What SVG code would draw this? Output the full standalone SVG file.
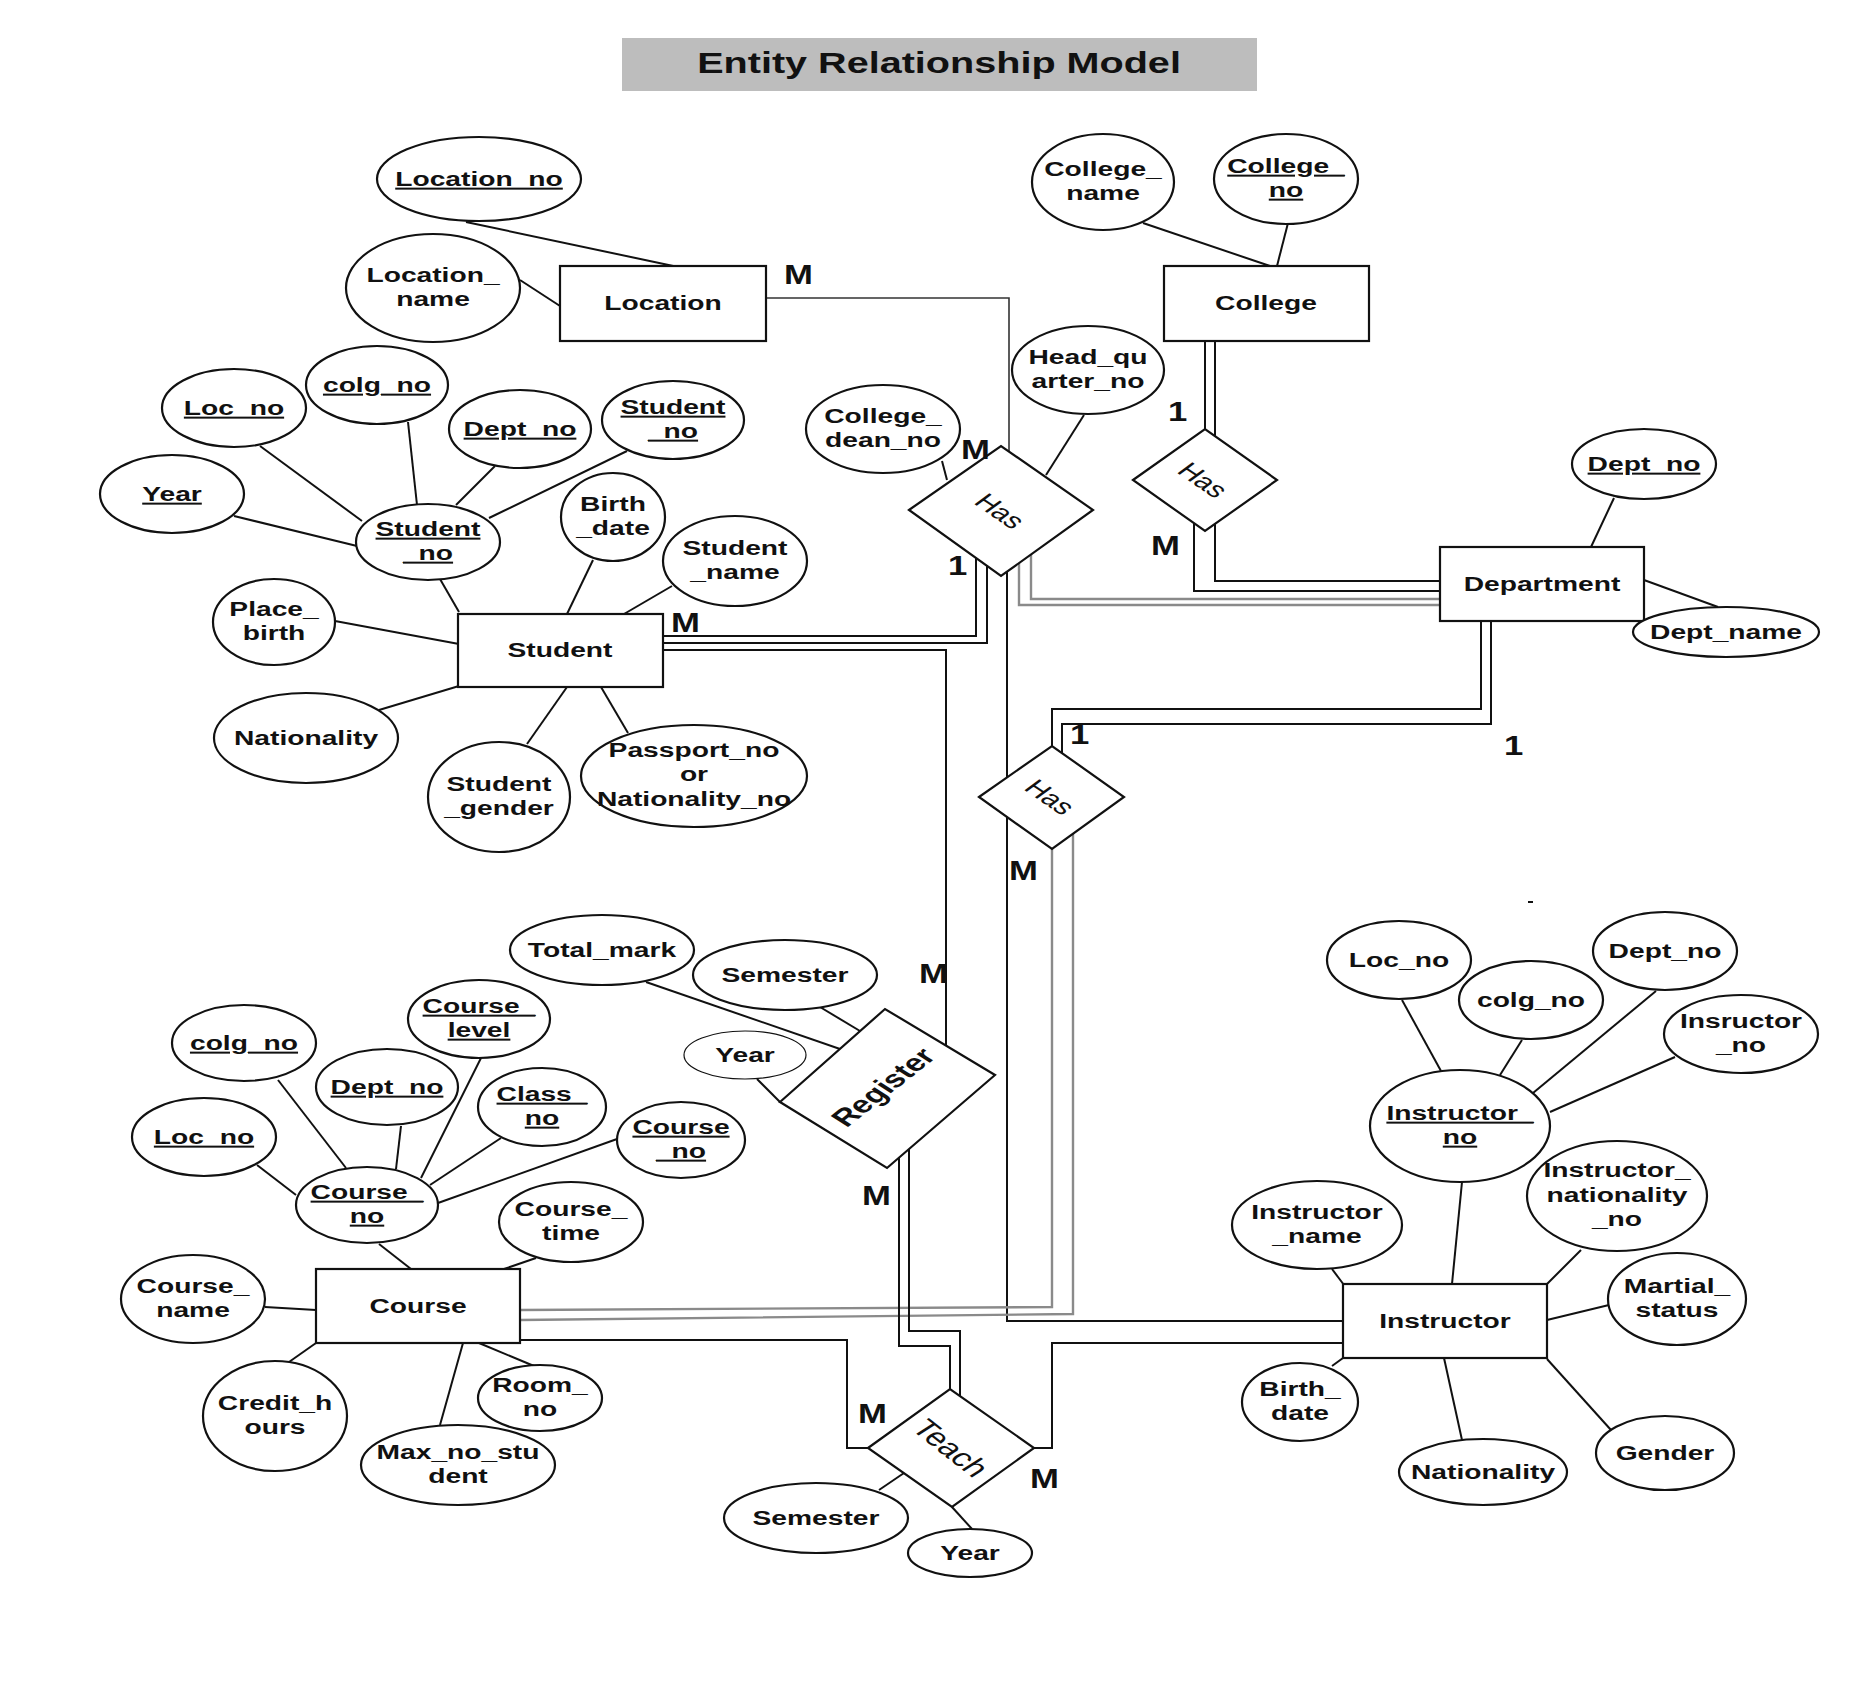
<svg xmlns="http://www.w3.org/2000/svg" width="1850" height="1681" viewBox="0 0 1850 1681">
<style>
.sh{fill:#fff;stroke:#111;stroke-width:2.2}
.thin{fill:#fff;stroke:#111;stroke-width:1.2}
.ln{fill:none;stroke:#111;stroke-width:2}
.lt{fill:none;stroke:#333;stroke-width:1.6}
.gl{fill:none;stroke:#8a8a8a;stroke-width:2.4}
.t{font-family:"Liberation Sans",Arial,Helvetica,sans-serif;font-weight:bold;font-size:20px;text-anchor:middle;fill:#111}
.u{text-decoration:underline}
.r{font-family:"Liberation Sans",Arial,Helvetica,sans-serif;font-size:22px;text-anchor:middle;fill:#111}
.lbl{font-family:"Liberation Sans",Arial,Helvetica,sans-serif;font-weight:bold;font-size:28px;fill:#111}
.ttl{font-family:"Liberation Sans",Arial,Helvetica,sans-serif;font-weight:bold;font-size:30px;text-anchor:middle;fill:#111}
</style>
<rect width="1850" height="1681" fill="#fff"/>
<g id="title">
<rect x="622" y="38" width="635" height="53" fill="#bdbdbd"/>
<text class="ttl" transform="translate(939,73) scale(1.32,1)">Entity Relationship Model</text>
</g>
<g id="connectors">
<!-- attribute lines -->
<line class="ln" x1="466" y1="222" x2="678" y2="267"/>
<line class="ln" x1="520" y1="280" x2="560" y2="306"/>
<line class="ln" x1="1143" y1="223" x2="1270" y2="266"/>
<line class="ln" x1="1288" y1="223" x2="1277" y2="266"/>
<line class="ln" x1="1084" y1="415" x2="1046" y2="475"/>
<line class="ln" x1="942" y1="461" x2="947" y2="480"/>
<line class="ln" x1="1614" y1="498" x2="1591" y2="547"/>
<line class="ln" x1="1644" y1="580" x2="1718" y2="607"/>
<line class="ln" x1="234" y1="516" x2="357" y2="546"/>
<line class="ln" x1="260" y1="446" x2="362" y2="521"/>
<line class="ln" x1="408" y1="422" x2="417" y2="505"/>
<line class="ln" x1="495" y1="466" x2="456" y2="505"/>
<line class="ln" x1="627" y1="451" x2="489" y2="518"/>
<line class="ln" x1="440" y1="579" x2="459" y2="612"/>
<line class="ln" x1="593" y1="560" x2="567" y2="614"/>
<line class="ln" x1="672" y1="586" x2="624" y2="614"/>
<line class="ln" x1="335" y1="621" x2="459" y2="644"/>
<line class="ln" x1="379" y1="710" x2="459" y2="686"/>
<line class="ln" x1="527" y1="744" x2="567" y2="687"/>
<line class="ln" x1="628" y1="733" x2="601" y2="687"/>
<line class="ln" x1="379" y1="1244" x2="411" y2="1269"/>
<line class="ln" x1="278" y1="1080" x2="346" y2="1168"/>
<line class="ln" x1="401" y1="1126" x2="396" y2="1169"/>
<line class="ln" x1="481" y1="1058" x2="421" y2="1178"/>
<line class="ln" x1="501" y1="1138" x2="430" y2="1185"/>
<line class="ln" x1="617" y1="1139" x2="438" y2="1203"/>
<line class="ln" x1="257" y1="1165" x2="296" y2="1195"/>
<line class="ln" x1="536" y1="1258" x2="504" y2="1269"/>
<line class="ln" x1="265" y1="1307" x2="316" y2="1310"/>
<line class="ln" x1="316" y1="1343" x2="289" y2="1362"/>
<line class="ln" x1="463" y1="1343" x2="440" y2="1425"/>
<line class="ln" x1="479" y1="1343" x2="534" y2="1366"/>
<line class="ln" x1="646" y1="982" x2="840" y2="1049"/>
<line class="ln" x1="820" y1="1007" x2="860" y2="1031"/>
<line class="ln" x1="757" y1="1079" x2="780" y2="1102"/>
<line class="ln" x1="879" y1="1490" x2="904" y2="1473"/>
<line class="ln" x1="952" y1="1507" x2="972" y2="1529"/>
<line class="ln" x1="1402" y1="1000" x2="1441" y2="1071"/>
<line class="ln" x1="1522" y1="1040" x2="1500" y2="1075"/>
<line class="ln" x1="1656" y1="991" x2="1533" y2="1093"/>
<line class="ln" x1="1675" y1="1057" x2="1550" y2="1112"/>
<line class="ln" x1="1462" y1="1182" x2="1452" y2="1284"/>
<line class="ln" x1="1332" y1="1269" x2="1344" y2="1285"/>
<line class="ln" x1="1581" y1="1250" x2="1547" y2="1284"/>
<line class="ln" x1="1609" y1="1305" x2="1547" y2="1320"/>
<line class="ln" x1="1332" y1="1366" x2="1343" y2="1358"/>
<line class="ln" x1="1462" y1="1440" x2="1444" y2="1358"/>
<line class="ln" x1="1611" y1="1430" x2="1547" y2="1359"/>
<!-- relationship lines -->
<polyline class="lt" points="766,298 1009,298 1009,452"/>
<polyline class="ln" points="663,636 976,636 976,558"/>
<polyline class="ln" points="663,643 987,643 987,566"/>
<polyline class="ln" points="663,650 946,650 946,1046"/>
<polyline class="ln" points="1205,341 1205,429"/>
<polyline class="ln" points="1215,341 1215,436"/>
<polyline class="ln" points="1215,524 1215,581 1440,581"/>
<polyline class="ln" points="1194,523 1194,591 1440,591"/>
<polyline class="gl" points="1031,554 1031,599 1440,599"/>
<polyline class="gl" points="1019,563 1019,605 1440,605"/>
<polyline class="ln" points="1007,572 1007,1321 1343,1321"/>
<polyline class="ln" points="1481,621 1481,709 1052,709 1052,746"/>
<polyline class="ln" points="1491,621 1491,724 1062,724 1062,753"/>
<polyline class="gl" points="1052,849 1052,1307 520,1310"/>
<polyline class="gl" points="1073,834 1073,1314 520,1320"/>
<polyline class="ln" points="899,1158 899,1346 950,1346 950,1389"/>
<polyline class="ln" points="909,1149 909,1331 960,1331 960,1396"/>
<polyline class="ln" points="520,1340 847,1340 847,1448 868,1448"/>
<polyline class="ln" points="1034,1448 1052,1448 1052,1343 1343,1343"/>
<line class="ln" x1="1528" y1="902" x2="1533" y2="902"/>
</g>
<!-- entities -->
<g id="location"><rect class="sh" x="560" y="266" width="206" height="75"/><text class="t" transform="translate(663,310) scale(1.41,1)">Location</text></g>
<g id="college"><rect class="sh" x="1164" y="266" width="205" height="75"/><text class="t" transform="translate(1266,310) scale(1.41,1)">College</text></g>
<g id="student"><rect class="sh" x="458" y="614" width="205" height="73"/><text class="t" transform="translate(560,657) scale(1.41,1)">Student</text></g>
<g id="department"><rect class="sh" x="1440" y="547" width="204" height="74"/><text class="t" transform="translate(1542,591) scale(1.41,1)">Department</text></g>
<g id="course"><rect class="sh" x="316" y="1269" width="204" height="74"/><text class="t" transform="translate(418,1313) scale(1.41,1)">Course</text></g>
<g id="instructor"><rect class="sh" x="1343" y="1284" width="204" height="74"/><text class="t" transform="translate(1445,1328) scale(1.41,1)">Instructor</text></g>
<!-- relationships -->
<g id="has1"><polygon class="sh" points="909,510 1001,446 1093,510 1001,576"/><text class="r" transform="translate(1000,511) scale(1.41,1) rotate(44)" dy="0.35em">Has</text></g>
<g id="has2"><polygon class="sh" points="1133,480 1205,429 1277,480 1205,531"/><text class="r" transform="translate(1203,480) scale(1.41,1) rotate(44)" dy="0.35em">Has</text></g>
<g id="has3"><polygon class="sh" points="979,797 1052,746 1124,797 1052,849"/><text class="r" transform="translate(1050,797) scale(1.41,1) rotate(44)" dy="0.35em">Has</text></g>
<g id="register"><polygon class="sh" points="780,1102 885,1009 995,1075 887,1168"/><text class="r" style="font-weight:bold;font-size:24px" transform="translate(883,1087) scale(1.41,1) rotate(-48)" dy="0.35em">Register</text></g>
<g id="teach"><polygon class="sh" points="868,1448 950,1389 1034,1448 952,1507"/><text class="r" style="font-size:25px" transform="translate(951,1448) scale(1.41,1) rotate(48)" dy="0.35em">Teach</text></g>
<!-- attributes -->
<g id="a-location-no"><ellipse class="sh" cx="479" cy="179" rx="102" ry="42"/><text class="t u" transform="translate(479,186) scale(1.41,1)">Location_no</text></g>
<g id="a-location-name"><ellipse class="sh" cx="433" cy="288" rx="87" ry="54"/><text class="t" transform="translate(433,288) scale(1.41,1)"><tspan x="0" y="-6">Location_</tspan><tspan x="0" y="18">name</tspan></text></g>
<g id="a-college-name"><ellipse class="sh" cx="1103" cy="182" rx="71" ry="48"/><text class="t" transform="translate(1103,182) scale(1.41,1)"><tspan x="0" y="-6">College_</tspan><tspan x="0" y="18">name</tspan></text></g>
<g id="a-college-no"><ellipse class="sh" cx="1286" cy="179" rx="72" ry="45"/><text class="t u" transform="translate(1286,179) scale(1.41,1)"><tspan x="0" y="-6">College_</tspan><tspan x="0" y="18">no</tspan></text></g>
<g id="a-head-quarter"><ellipse class="sh" cx="1088" cy="370" rx="76" ry="44"/><text class="t" transform="translate(1088,370) scale(1.41,1)"><tspan x="0" y="-6">Head_qu</tspan><tspan x="0" y="18">arter_no</tspan></text></g>
<g id="a-college-dean"><ellipse class="sh" cx="883" cy="429" rx="77" ry="44"/><text class="t" transform="translate(883,429) scale(1.41,1)"><tspan x="0" y="-6">College_</tspan><tspan x="0" y="18">dean_no</tspan></text></g>
<g id="a-dept-no"><ellipse class="sh" cx="1644" cy="464" rx="72" ry="35"/><text class="t u" transform="translate(1644,471) scale(1.41,1)">Dept_no</text></g>
<g id="a-dept-name"><ellipse class="sh" cx="1726" cy="632" rx="93" ry="25"/><text class="t" transform="translate(1726,639) scale(1.41,1)">Dept_name</text></g>
<g id="a-s-student-no"><ellipse class="sh" cx="428" cy="542" rx="72" ry="38"/><text class="t u" transform="translate(428,542) scale(1.41,1)"><tspan x="0" y="-6">Student</tspan><tspan x="0" y="18">_no</tspan></text></g>
<g id="a-s-year"><ellipse class="sh" cx="172" cy="494" rx="72" ry="39"/><text class="t u" transform="translate(172,501) scale(1.41,1)">Year</text></g>
<g id="a-s-loc-no"><ellipse class="sh" cx="234" cy="408" rx="72" ry="39"/><text class="t u" transform="translate(234,415) scale(1.41,1)">Loc_no</text></g>
<g id="a-s-colg-no"><ellipse class="sh" cx="377" cy="385" rx="71" ry="39"/><text class="t u" transform="translate(377,392) scale(1.41,1)">colg_no</text></g>
<g id="a-s-dept-no"><ellipse class="sh" cx="520" cy="429" rx="71" ry="39"/><text class="t u" transform="translate(520,436) scale(1.41,1)">Dept_no</text></g>
<g id="a-s-student-no2"><ellipse class="sh" cx="673" cy="420" rx="71" ry="39"/><text class="t u" transform="translate(673,420) scale(1.41,1)"><tspan x="0" y="-6">Student</tspan><tspan x="0" y="18">_no</tspan></text></g>
<g id="a-s-birth"><ellipse class="sh" cx="613" cy="517" rx="52" ry="44"/><text class="t" transform="translate(613,517) scale(1.41,1)"><tspan x="0" y="-6">Birth</tspan><tspan x="0" y="18">_date</tspan></text></g>
<g id="a-s-name"><ellipse class="sh" cx="735" cy="561" rx="72" ry="45"/><text class="t" transform="translate(735,561) scale(1.41,1)"><tspan x="0" y="-6">Student</tspan><tspan x="0" y="18">_name</tspan></text></g>
<g id="a-s-place"><ellipse class="sh" cx="274" cy="622" rx="61" ry="43"/><text class="t" transform="translate(274,622) scale(1.41,1)"><tspan x="0" y="-6">Place_</tspan><tspan x="0" y="18">birth</tspan></text></g>
<g id="a-s-nationality"><ellipse class="sh" cx="306" cy="738" rx="92" ry="45"/><text class="t" transform="translate(306,745) scale(1.41,1)">Nationality</text></g>
<g id="a-s-gender"><ellipse class="sh" cx="499" cy="797" rx="71" ry="55"/><text class="t" transform="translate(499,797) scale(1.41,1)"><tspan x="0" y="-6">Student</tspan><tspan x="0" y="18">_gender</tspan></text></g>
<g id="a-s-passport"><ellipse class="sh" cx="694" cy="776" rx="113" ry="51"/><text class="t" transform="translate(694,776) scale(1.41,1)"><tspan x="0" y="-19">Passport_no</tspan><tspan x="0" y="5">or</tspan><tspan x="0" y="30">Nationality_no</tspan></text></g>
<g id="a-c-course-no"><ellipse class="sh" cx="367" cy="1205" rx="71" ry="38"/><text class="t u" transform="translate(367,1205) scale(1.41,1)"><tspan x="0" y="-6">Course_</tspan><tspan x="0" y="18">no</tspan></text></g>
<g id="a-c-colg-no"><ellipse class="sh" cx="244" cy="1043" rx="72" ry="38"/><text class="t u" transform="translate(244,1050) scale(1.41,1)">colg_no</text></g>
<g id="a-c-dept-no"><ellipse class="sh" cx="387" cy="1087" rx="71" ry="38"/><text class="t u" transform="translate(387,1094) scale(1.41,1)">Dept_no</text></g>
<g id="a-c-level"><ellipse class="sh" cx="479" cy="1019" rx="71" ry="39"/><text class="t u" transform="translate(479,1019) scale(1.41,1)"><tspan x="0" y="-6">Course_</tspan><tspan x="0" y="18">level</tspan></text></g>
<g id="a-c-class"><ellipse class="sh" cx="542" cy="1107" rx="64" ry="39"/><text class="t u" transform="translate(542,1107) scale(1.41,1)"><tspan x="0" y="-6">Class_</tspan><tspan x="0" y="18">no</tspan></text></g>
<g id="a-c-course-no2"><ellipse class="sh" cx="681" cy="1140" rx="64" ry="38"/><text class="t u" transform="translate(681,1140) scale(1.41,1)"><tspan x="0" y="-6">Course</tspan><tspan x="0" y="18">_no</tspan></text></g>
<g id="a-c-loc-no"><ellipse class="sh" cx="204" cy="1137" rx="72" ry="39"/><text class="t u" transform="translate(204,1144) scale(1.41,1)">Loc_no</text></g>
<g id="a-c-time"><ellipse class="sh" cx="571" cy="1222" rx="72" ry="40"/><text class="t" transform="translate(571,1222) scale(1.41,1)"><tspan x="0" y="-6">Course_</tspan><tspan x="0" y="18">time</tspan></text></g>
<g id="a-c-name"><ellipse class="sh" cx="193" cy="1299" rx="72" ry="44"/><text class="t" transform="translate(193,1299) scale(1.41,1)"><tspan x="0" y="-6">Course_</tspan><tspan x="0" y="18">name</tspan></text></g>
<g id="a-c-credit"><ellipse class="sh" cx="275" cy="1416" rx="72" ry="55"/><text class="t" transform="translate(275,1416) scale(1.41,1)"><tspan x="0" y="-6">Credit_h</tspan><tspan x="0" y="18">ours</tspan></text></g>
<g id="a-c-max"><ellipse class="sh" cx="458" cy="1465" rx="97" ry="40"/><text class="t" transform="translate(458,1465) scale(1.41,1)"><tspan x="0" y="-6">Max_no_stu</tspan><tspan x="0" y="18">dent</tspan></text></g>
<g id="a-c-room"><ellipse class="sh" cx="540" cy="1398" rx="62" ry="33"/><text class="t" transform="translate(540,1398) scale(1.41,1)"><tspan x="0" y="-6">Room_</tspan><tspan x="0" y="18">no</tspan></text></g>
<g id="a-r-total"><ellipse class="sh" cx="602" cy="950" rx="92" ry="35"/><text class="t" transform="translate(602,957) scale(1.41,1)">Total_mark</text></g>
<g id="a-r-semester"><ellipse class="sh" cx="785" cy="975" rx="92" ry="35"/><text class="t" transform="translate(785,982) scale(1.41,1)">Semester</text></g>
<g id="a-r-year"><ellipse class="thin" cx="745" cy="1055" rx="61" ry="24"/><text class="t" transform="translate(745,1062) scale(1.41,1)">Year</text></g>
<g id="a-t-semester"><ellipse class="sh" cx="816" cy="1518" rx="92" ry="35"/><text class="t" transform="translate(816,1525) scale(1.41,1)">Semester</text></g>
<g id="a-t-year"><ellipse class="sh" cx="970" cy="1553" rx="62" ry="24"/><text class="t" transform="translate(970,1560) scale(1.41,1)">Year</text></g>
<g id="a-i-instructor-no"><ellipse class="sh" cx="1460" cy="1126" rx="90" ry="56"/><text class="t u" transform="translate(1460,1126) scale(1.41,1)"><tspan x="0" y="-6">Instructor_</tspan><tspan x="0" y="18">no</tspan></text></g>
<g id="a-i-loc-no"><ellipse class="sh" cx="1399" cy="960" rx="72" ry="39"/><text class="t" transform="translate(1399,967) scale(1.41,1)">Loc_no</text></g>
<g id="a-i-colg-no"><ellipse class="sh" cx="1531" cy="1000" rx="72" ry="39"/><text class="t" transform="translate(1531,1007) scale(1.41,1)">colg_no</text></g>
<g id="a-i-dept-no"><ellipse class="sh" cx="1665" cy="951" rx="72" ry="39"/><text class="t" transform="translate(1665,958) scale(1.41,1)">Dept_no</text></g>
<g id="a-i-insructor-no"><ellipse class="sh" cx="1741" cy="1034" rx="77" ry="39"/><text class="t" transform="translate(1741,1034) scale(1.41,1)"><tspan x="0" y="-6">Insructor</tspan><tspan x="0" y="18">_no</tspan></text></g>
<g id="a-i-name"><ellipse class="sh" cx="1317" cy="1225" rx="85" ry="44"/><text class="t" transform="translate(1317,1225) scale(1.41,1)"><tspan x="0" y="-6">Instructor</tspan><tspan x="0" y="18">_name</tspan></text></g>
<g id="a-i-nat-no"><ellipse class="sh" cx="1617" cy="1196" rx="90" ry="55"/><text class="t" transform="translate(1617,1196) scale(1.41,1)"><tspan x="0" y="-19">Instructor_</tspan><tspan x="0" y="6">nationality</tspan><tspan x="0" y="30">_no</tspan></text></g>
<g id="a-i-martial"><ellipse class="sh" cx="1677" cy="1299" rx="69" ry="46"/><text class="t" transform="translate(1677,1299) scale(1.41,1)"><tspan x="0" y="-6">Martial_</tspan><tspan x="0" y="18">status</tspan></text></g>
<g id="a-i-birth"><ellipse class="sh" cx="1300" cy="1402" rx="58" ry="39"/><text class="t" transform="translate(1300,1402) scale(1.41,1)"><tspan x="0" y="-6">Birth_</tspan><tspan x="0" y="18">date</tspan></text></g>
<g id="a-i-nationality"><ellipse class="sh" cx="1483" cy="1472" rx="84" ry="33"/><text class="t" transform="translate(1483,1479) scale(1.41,1)">Nationality</text></g>
<g id="a-i-gender"><ellipse class="sh" cx="1665" cy="1453" rx="69" ry="37"/><text class="t" transform="translate(1665,1460) scale(1.41,1)">Gender</text></g>
<!-- cardinality labels -->
<g id="cardinalities">
<text class="lbl" transform="translate(784,284) scale(1.24,1)">M</text>
<text class="lbl" transform="translate(961,459) scale(1.24,1)">M</text>
<text class="lbl" transform="translate(1151,555) scale(1.24,1)">M</text>
<text class="lbl" transform="translate(671,632) scale(1.24,1)">M</text>
<text class="lbl" transform="translate(1009,880) scale(1.24,1)">M</text>
<text class="lbl" transform="translate(919,983) scale(1.24,1)">M</text>
<text class="lbl" transform="translate(862,1205) scale(1.24,1)">M</text>
<text class="lbl" transform="translate(858,1423) scale(1.24,1)">M</text>
<text class="lbl" transform="translate(1030,1488) scale(1.24,1)">M</text>
<text class="lbl" transform="translate(948,575) scale(1.24,1)">1</text>
<text class="lbl" transform="translate(1168,421) scale(1.24,1)">1</text>
<text class="lbl" transform="translate(1070,744) scale(1.24,1)">1</text>
<text class="lbl" transform="translate(1504,755) scale(1.24,1)">1</text>
</g>
</svg>
